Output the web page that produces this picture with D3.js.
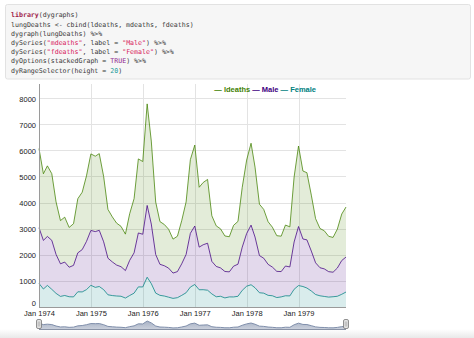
<!DOCTYPE html>
<html>
<head>
<meta charset="utf-8">
<script src="https://cdn.jsdelivr.net/npm/d3@7"></script>
<style>
  html, body { margin: 0; padding: 0; background: #fff; }
  svg { display: block; }
  text { white-space: pre; }
</style>
</head>
<body>
<svg id="chart" width="474" height="338"></svg>
<script>
// Monthly UK lung disease deaths, 1974-1979
const startYear = 1974;
const ldeaths = [
  3035, 2552, 2704, 2554, 2014, 1655, 1721, 1524, 1596, 2074, 2199, 2512,
  2933, 2889, 2938, 2497, 1870, 1726, 1607, 1545, 1396, 1787, 2076, 2837,
  2787, 3891, 3179, 2011, 1636, 1580, 1489, 1300, 1356, 1653, 2013, 2823,
  3102, 2294, 2385, 2444, 1748, 1554, 1498, 1361, 1346, 1564, 1640, 2293,
  2815, 3137, 2679, 1969, 1870, 1633, 1529, 1366, 1357, 1570, 1535, 2491,
  3084, 2605, 2573, 2143, 1693, 1504, 1461, 1354, 1333, 1492, 1781, 1915
];
const mdeaths = [
  2134, 1863, 1877, 1877, 1492, 1249, 1280, 1131, 1209, 1492, 1621, 1846,
  2103, 2137, 2153, 1833, 1403, 1288, 1186, 1133, 1053, 1347, 1545, 2066,
  2020, 2750, 2283, 1479, 1189, 1160, 1113,  970,  999, 1208, 1467, 2059,
  2240, 1634, 1722, 1801, 1246, 1162, 1087, 1013,  959, 1179, 1229, 1655,
  2019, 2284, 1942, 1423, 1340, 1187, 1098, 1004,  970, 1140, 1110, 1812,
  2263, 1820, 1846, 1531, 1215, 1075, 1056,  975,  940, 1081, 1294, 1341
];
const fdeaths = [
  901, 689, 827, 677, 522, 406, 441, 393, 387, 582, 578, 666,
  830, 752, 785, 664, 467, 438, 421, 412, 343, 440, 531, 771,
  767, 1141, 896, 532, 447, 420, 376, 330, 357, 445, 546, 764,
  862, 660, 663, 643, 502, 392, 411, 348, 387, 385, 411, 638,
  796, 853, 737, 546, 530, 446, 431, 362, 387, 430, 425, 679,
  821, 785, 727, 612, 478, 429, 405, 379, 393, 411, 487, 574
];
const seriesLabels = ["ldeaths", "Male", "Female"];
const seriesColors = ["#408000", "#400080", "#008080"];
const yTicks = [0, 1000, 2000, 3000, 4000, 5000, 6000, 7000, 8000];
const xTickYears = [1974, 1975, 1976, 1977, 1978, 1979];
const xTickLabels = ["Jan 1974", "Jan 1975", "Jan 1976", "Jan 1977", "Jan 1978", "Jan 1979"];

// R snippet shown above the chart, split into highlighted tokens
const codeLines = [
  [["library", "kw"], ["(dygraphs)", ""]],
  [["lungDeaths <- cbind(ldeaths, mdeaths, fdeaths)", ""]],
  [["dygraph(lungDeaths) %>%", ""]],
  [["dySeries(", ""], ["\"mdeaths\"", "str"], [", label = ", ""], ["\"Male\"", "str"], [") %>%", ""]],
  [["dySeries(", ""], ["\"fdeaths\"", "str"], [", label = ", ""], ["\"Female\"", "str"], [") %>%", ""]],
  [["dyOptions(stackedGraph = ", ""], ["TRUE", "const"], [") %>%", ""]],
  [["dyRangeSelector(height = ", ""], ["20", "num"], [")", ""]]
];
const tokenColors = { "": "#3a3a3a", kw: "#a0234a", str: "#d81b60", const: "#8e1a8e", num: "#1a9a9a" };

const svg = d3.select("#chart");
const W = 474, H = 338;

svg.append("rect").attr("width", W).attr("height", H).attr("fill", "#fff");

// faint shading along the bottom edge of the page
const defs = svg.append("defs");
const shade = defs.append("linearGradient").attr("id", "pageShade")
  .attr("x1", 0).attr("y1", 0).attr("x2", 0).attr("y2", 1);
shade.append("stop").attr("offset", 0).attr("stop-color", "#ffffff");
shade.append("stop").attr("offset", 1).attr("stop-color", "#e9e9e9");
svg.append("rect").attr("x", 0).attr("y", 329).attr("width", W).attr("height", 9)
  .attr("fill", "url(#pageShade)");

// ---- code block ----
svg.append("rect")
  .attr("x", 5.5).attr("y", 4.5).attr("width", 465).attr("height", 74.5)
  .attr("rx", 2)
  .attr("fill", "#f6f6f6").attr("stroke", "#e2e2e2");

const codeText = svg.append("g")
  .attr("font-family", "'DejaVu Sans Mono', monospace")
  .attr("font-size", 6.6);
codeLines.forEach((tokens, i) => {
  const t = codeText.append("text").attr("x", 11).attr("y", 17.3 + i * 9.2);
  tokens.forEach(([s, cls]) => {
    t.append("tspan").text(s)
      .attr("fill", tokenColors[cls])
      .attr("font-weight", cls === "kw" ? "bold" : null);
  });
});

// ---- main stacked chart ----
const dates = d3.range(ldeaths.length).map(i => new Date(startYear, i, 1));
const plot = { left: 39, right: 346, top: 84, bottom: 307 };

const x = d3.scaleTime()
  .domain([dates[0], dates[dates.length - 1]])
  .range([plot.left, plot.right]);
const y = d3.scaleLinear()
  .domain([0, 8544])
  .range([plot.bottom, plot.top]);

// stacked bands: Female at the bottom, then Male, then ldeaths on top
const seriesValues = [ldeaths, mdeaths, fdeaths];
const stackOrder = [2, 1, 0];
const bands = [];
let base = dates.map(() => 0);
stackOrder.forEach(si => {
  const top = base.map((b, i) => b + seriesValues[si][i]);
  bands.push({ si, lo: base, hi: top });
  base = top;
});

// grid
const grid = svg.append("g").attr("stroke", "#e3e3e3").attr("stroke-width", 1);
yTicks.filter(v => v > 0).forEach(v => {
  grid.append("line")
    .attr("x1", plot.left).attr("x2", plot.right)
    .attr("y1", Math.round(y(v)) + 0.5).attr("y2", Math.round(y(v)) + 0.5);
});
xTickYears.slice(1).forEach(yr => {
  const px = Math.round(x(new Date(yr, 0, 1))) + 0.5;
  grid.append("line").attr("x1", px).attr("x2", px)
    .attr("y1", plot.top).attr("y2", plot.bottom);
});

const area = d3.area()
  .x((d, i) => x(dates[i]))
  .y0(d => y(d[0]))
  .y1(d => y(d[1]));
const line = d3.line()
  .x((d, i) => x(dates[i]))
  .y(d => y(d));

bands.forEach(b => {
  svg.append("path")
    .datum(b.lo.map((v, i) => [v, b.hi[i]]))
    .attr("d", area)
    .attr("fill", seriesColors[b.si])
    .attr("fill-opacity", 0.15);
});
bands.forEach(b => {
  svg.append("path")
    .datum(b.hi)
    .attr("d", line)
    .attr("fill", "none")
    .attr("stroke", seriesColors[b.si])
    .attr("stroke-opacity", 0.75)
    .attr("stroke-width", 1);
});

// axes lines
svg.append("line")
  .attr("x1", plot.left + 0.5).attr("x2", plot.left + 0.5)
  .attr("y1", plot.top).attr("y2", plot.bottom)
  .attr("stroke", "#9a9a9a").attr("stroke-width", 1);
svg.append("line")
  .attr("x1", plot.left).attr("x2", plot.right)
  .attr("y1", plot.bottom + 0.5).attr("y2", plot.bottom + 0.5)
  .attr("stroke", "#9a9a9a").attr("stroke-width", 1);

// y tick labels
const yAxis = d3.axisLeft(y).tickValues(yTicks).tickSize(0).tickPadding(3)
  .tickFormat(d3.format("d"));
const yg = svg.append("g").attr("transform", `translate(${plot.left},0)`).call(yAxis);
yg.select(".domain").remove();
yg.selectAll("text")
  .attr("font-family", "'Liberation Sans', Arial, sans-serif")
  .attr("font-size", 7.5).attr("fill", "#222")
  .attr("dy", "0.4em");
// the bottom label sits just above the date labels
yg.selectAll(".tick").filter(d => d === 0).select("text").attr("dy", "-0.25em");

// x tick labels
const xAxis = d3.axisBottom(x)
  .tickValues(xTickYears.map(yr => new Date(yr, 0, 1)))
  .tickSize(0).tickPadding(3.5)
  .tickFormat((d, i) => xTickLabels[i]);
const xg = svg.append("g").attr("transform", `translate(0,${plot.bottom})`).call(xAxis);
xg.select(".domain").remove();
xg.selectAll("text")
  .attr("font-family", "'Liberation Sans', Arial, sans-serif")
  .attr("font-size", 7.5).attr("fill", "#222");

// legend
const legend = svg.append("text")
  .attr("x", 316).attr("y", 91.5)
  .attr("text-anchor", "end")
  .attr("font-family", "'Liberation Sans', Arial, sans-serif")
  .attr("font-size", 7.5).attr("font-weight", "bold");
seriesLabels.forEach((lab, i) => {
  legend.append("tspan")
    .text((i > 0 ? " " : "") + "\u2014 " + lab)
    .attr("fill", seriesColors[i]);
});

// ---- range selector ----
const totals = dates.map((d, i) => ldeaths[i] + mdeaths[i] + fdeaths[i]);
const rs = { top: 319, bottom: 329 };
const yMini = d3.scaleLinear()
  .domain([d3.min(totals) - 800, d3.max(totals)])
  .range([rs.bottom, rs.top + 2]);

const miniFill = defs.append("linearGradient").attr("id", "miniFill")
  .attr("x1", 0).attr("y1", 0).attr("x2", 0).attr("y2", 1);
miniFill.append("stop").attr("offset", 0).attr("stop-color", "#a7b1c4");
miniFill.append("stop").attr("offset", 1).attr("stop-color", "#c9cfdb");

svg.append("path")
  .datum(totals)
  .attr("d", d3.area().x((d, i) => x(dates[i])).y0(rs.bottom).y1(d => yMini(d)))
  .attr("fill", "url(#miniFill)");
svg.append("path")
  .datum(totals)
  .attr("d", d3.line().x((d, i) => x(dates[i])).y(d => yMini(d)))
  .attr("fill", "none").attr("stroke", "#808fab").attr("stroke-width", 1);
svg.append("line")
  .attr("x1", plot.left).attr("x2", plot.right)
  .attr("y1", rs.bottom + 0.5).attr("y2", rs.bottom + 0.5)
  .attr("stroke", "#8a93a6").attr("stroke-width", 1);

// selector handles at both ends
[plot.left, plot.right].forEach(hx => {
  const h = svg.append("g").attr("transform", `translate(${hx},${rs.top + 5})`);
  h.append("rect")
    .attr("x", -2.5).attr("y", -4.5).attr("width", 5).attr("height", 9)
    .attr("rx", 1.5)
    .attr("fill", "#e4e4e4").attr("stroke", "#777").attr("stroke-width", 0.8);
  [-0.8, 0.8].forEach(dx => {
    h.append("line").attr("x1", dx).attr("x2", dx).attr("y1", -2.5).attr("y2", 2.5)
      .attr("stroke", "#888").attr("stroke-width", 0.5);
  });
});
</script>
</body>
</html>
